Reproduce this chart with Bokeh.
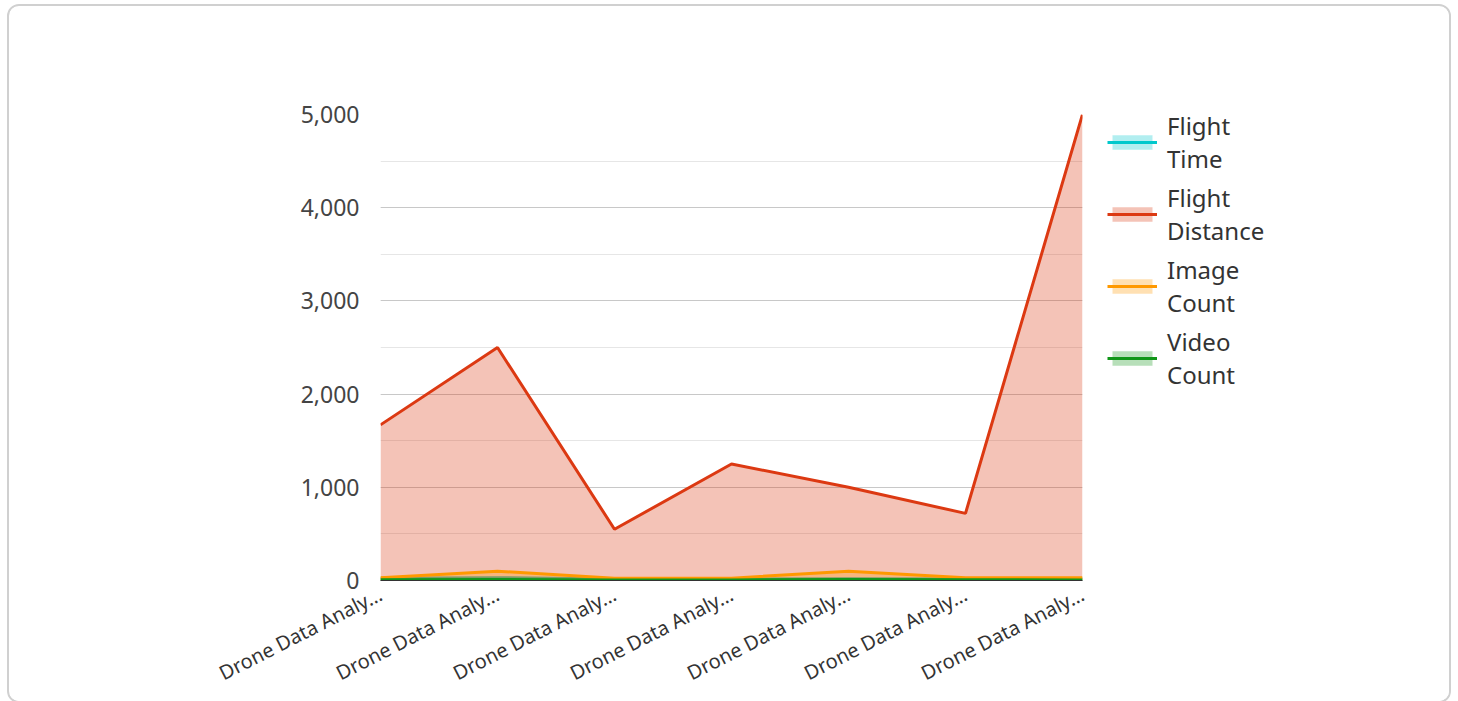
import math
from bokeh.plotting import figure
from bokeh.models import (Legend, LegendItem, SingleIntervalTicker, NumeralTickFormatter, Range1d)
from bokeh.embed import file_html
from bokeh.resources import INLINE

categories = ["Drone Data Analy\u2026"] * 7
flight_time = [25, 30, 15, 15, 20, 15, 15]
flight_distance = [1670, 2500, 550, 1250, 1000, 720, 5000]
image_count = [30, 100, 25, 25, 100, 30, 30]
video_count = [8, 10, 5, 6, 10, 8, 6]

series = [
    ("Flight\nTime", flight_time, "#00c8cc"),
    ("Flight\nDistance", flight_distance, "#dc3912"),
    ("Image\nCount", image_count, "#ff9900"),
    ("Video\nCount", video_count, "#109618"),
]

FONT = "Noto Sans"
xs = list(range(len(categories)))

p = figure(frame_width=702, frame_height=466,
           output_backend="svg", toolbar_location=None,
           x_range=Range1d(0, len(categories) - 1), y_range=Range1d(0, 5000),
           min_border_left=371, min_border_top=108, min_border_right=100,
           min_border_bottom=118)
p.margin = (4, 0, 0, 7)
p.styles = {"border": "2px solid #d0d0d0", "border-radius": "12px",
            "box-sizing": "border-box", "max-width": "1444px", "overflow": "hidden"}
p.outline_line_color = None
p.background_fill_color = "white"
p.border_fill_color = "white"

items = []
for label, vals, color in series:
    a = p.varea(x=xs, y1=0, y2=vals, fill_color=color, fill_alpha=0.3)
    l = p.line(x=xs, y=vals, line_color=color, line_width=3)
    items.append(LegendItem(label=label, renderers=[a, l]))

p.yaxis.ticker = SingleIntervalTicker(interval=1000, num_minor_ticks=2)
p.yaxis.formatter = NumeralTickFormatter(format="0,0")
p.yaxis.axis_line_color = None
p.yaxis.major_tick_line_color = None
p.yaxis.minor_tick_line_color = None
p.yaxis.major_tick_out = 0
p.yaxis.minor_tick_out = 0
p.yaxis.major_label_standoff = 21
p.yaxis.major_label_text_font = FONT
p.yaxis.major_label_text_font_size = "23px"
p.yaxis.major_label_text_color = "#444444"

p.xaxis.ticker = xs
p.xaxis.major_label_overrides = {i: c for i, c in enumerate(categories)}
p.xaxis.axis_line_color = "#333333"
p.xaxis.major_tick_line_color = None
p.xaxis.minor_tick_line_color = None
p.xaxis.major_tick_out = 0
p.xaxis.major_label_standoff = 12
p.xaxis.major_label_orientation = math.radians(27)
p.xaxis.major_label_text_font = FONT
p.xaxis.major_label_text_font_size = "20px"
p.xaxis.major_label_text_color = "#333333"

p.xgrid.grid_line_color = None
p.ygrid.grid_line_color = "#c8c8c8"
p.ygrid.minor_grid_line_color = "#e6e6e6"

legend = Legend(items=items, location=(25, 189), margin=0, padding=0,
                glyph_width=50, glyph_height=18, label_standoff=10, spacing=6,
                label_text_font=FONT, label_text_font_size="24px",
                label_text_color="#333333", border_line_color=None,
                background_fill_alpha=0)
p.add_layout(legend, "right")

open("out.html", "w").write(file_html(p, INLINE))
